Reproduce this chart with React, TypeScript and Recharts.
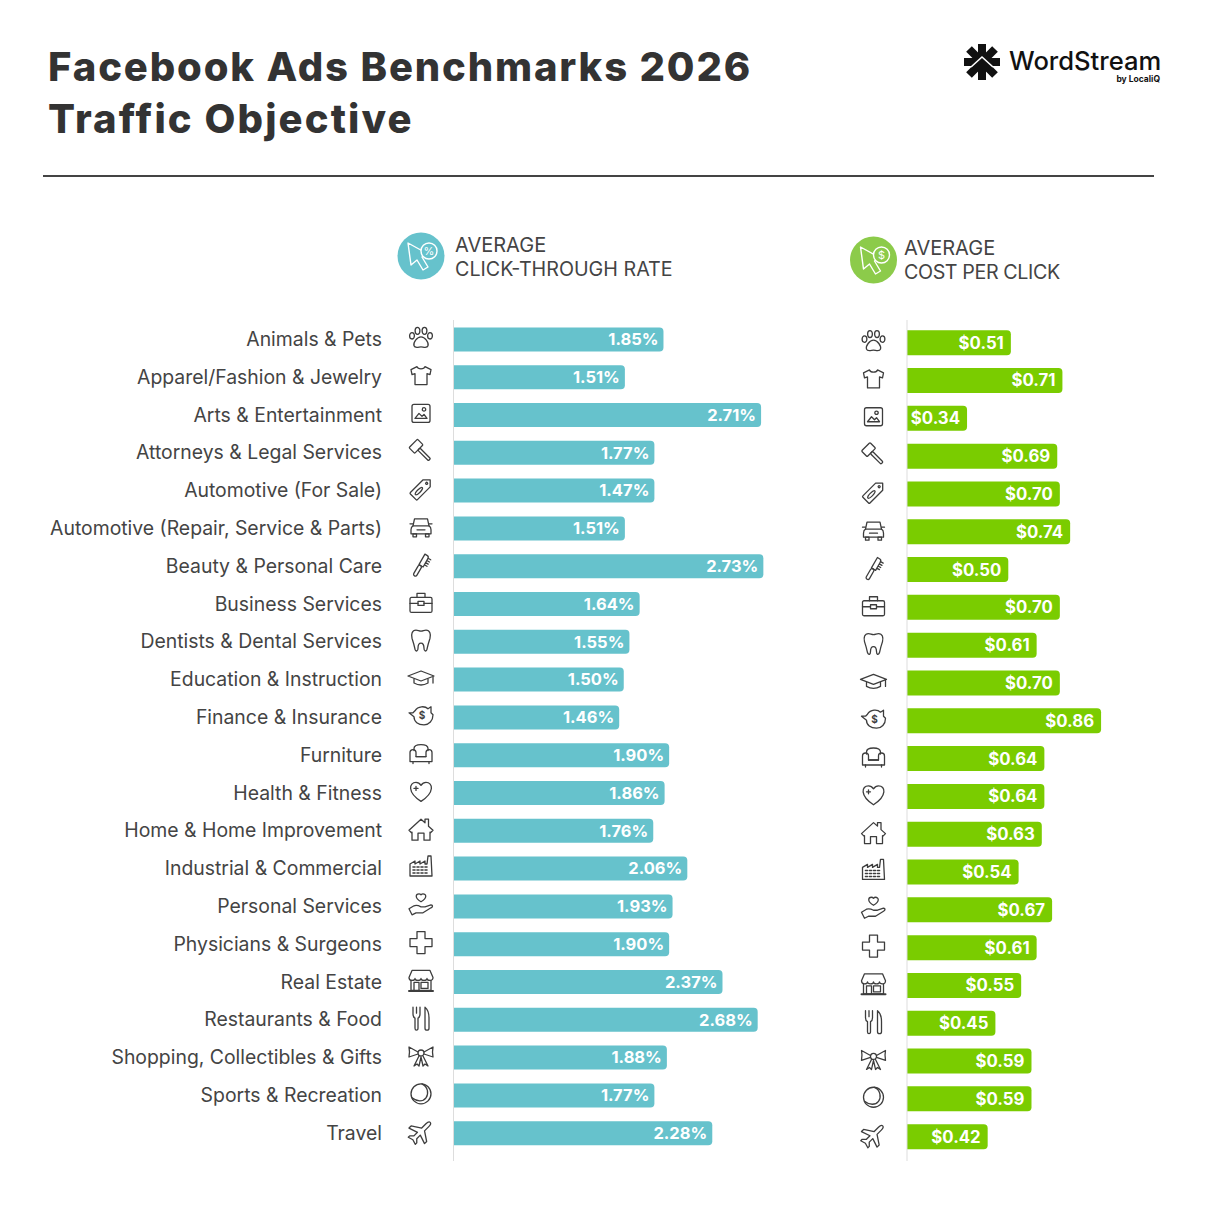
import React from "react";
import { BarChart, Bar, XAxis, YAxis, LabelList } from "recharts";

const categories = ["Animals & Pets","Apparel/Fashion & Jewelry","Arts & Entertainment","Attorneys & Legal Services","Automotive (For Sale)","Automotive (Repair, Service & Parts)","Beauty & Personal Care","Business Services","Dentists & Dental Services","Education & Instruction","Finance & Insurance","Furniture","Health & Fitness","Home & Home Improvement","Industrial & Commercial","Personal Services","Physicians & Surgeons","Real Estate","Restaurants & Food","Shopping, Collectibles & Gifts","Sports & Recreation","Travel"];
// Bar lengths as drawn. The Automotive (For Sale) bar is drawn longer than its printed 1.47%.
const ctrBars = [1.85,1.51,2.71,1.77,1.77,1.51,2.73,1.64,1.55,1.50,1.46,1.90,1.86,1.76,2.06,1.93,1.90,2.37,2.68,1.88,1.77,2.28];
const ctrLabels = ["1.85%","1.51%","2.71%","1.77%","1.47%","1.51%","2.73%","1.64%","1.55%","1.50%","1.46%","1.90%","1.86%","1.76%","2.06%","1.93%","1.90%","2.37%","2.68%","1.88%","1.77%","2.28%"];
const cpcBars = [0.51,0.71,0.34,0.69,0.70,0.74,0.50,0.70,0.61,0.70,0.86,0.64,0.64,0.63,0.54,0.67,0.61,0.55,0.45,0.59,0.59,0.42];
const cpcLabels = ["$0.51","$0.71","$0.34","$0.69","$0.70","$0.74","$0.50","$0.70","$0.61","$0.70","$0.86","$0.64","$0.64","$0.63","$0.54","$0.67","$0.61","$0.55","$0.45","$0.59","$0.59","$0.42"];

const ctrData = categories.map((name, i) => ({ name, value: ctrBars[i], label: ctrLabels[i] }));
const cpcData = categories.map((name, i) => ({ name, value: cpcBars[i], label: cpcLabels[i] }));

const FONT = "Inter, 'Noto Sans', sans-serif";
const DARK = "#3d3d3d";

const icons: React.ReactNode[] = [
  <g><ellipse cx={-9} cy={-2} rx={2.4} ry={3.2}/><ellipse cx={-3.5} cy={-7} rx={2.4} ry={3.5}/><ellipse cx={3.5} cy={-7} rx={2.4} ry={3.5}/><ellipse cx={9} cy={-2} rx={2.4} ry={3.2}/><path d="M0 -1C-4 -1 -8 5 -7 8C-6 11 -2 9 0 9C2 9 6 11 7 8C8 5 4 -1 0 -1Z"/></g>,
  <path d="M-4 -9L-10 -6L-9 -1L-6 -2V9H6V-2L9 -1L10 -6L4 -9C3 -6 -3 -6 -4 -9Z"/>,
  <g><rect x={-9} y={-9} width={18} height={18} rx={2}/><path d="M-6 5L-2 0L1 3L3 1L6 5Z"/><circle cx={3} cy={-4} r={1.7}/></g>,
  <g transform="rotate(-45)"><rect x={-6} y={-11} width={12} height={8} rx={1}/><rect x={-1.5} y={-3} width={3} height={15} rx={1}/></g>,
  <g transform="rotate(45)"><path d="M0 -13L5 -8V10Q5 11 4 11H-4Q-5 11 -5 10V-8Z"/><circle cx={0} cy={-8} r={1}/><ellipse cx={0} cy={3} rx={1.6} ry={5}/></g>,
  <g><path d="M-8 -1L-6.5 -8H6.5L8 -1Q10 0 10 3V7H-10V3Q-10 0 -8 -1Z"/><rect x={-8} y={7} width={3.5} height={3}/><rect x={4.5} y={7} width={3.5} height={3}/><path d="M-8 -1H8M-8 -3H-11M8 -3H11M-4 3H4"/></g>,
  <g transform="rotate(30)"><rect x={-1.8} y={1} width={3.6} height={12} rx={1.8}/><path d="M-1.8 1V-11H1Q3 -11 3 -8V1ZM3 -9H6M3 -6.5H6M3 -4H6M3 -1.5H6"/></g>,
  <g><rect x={-11} y={-5} width={22} height={15} rx={1.5}/><path d="M-4 -5V-9H4V-5M-11 1H-3M3 1H11"/><rect x={-3} y={-1} width={6} height={4}/></g>,
  <path d="M-5 -10C-9 -10 -10 -6 -9 -2C-8 1 -7 4 -6 9C-5 12 -3 11 -3 8C-3 5 -2 3 0 3C2 3 3 5 3 8C3 11 5 12 6 9C7 4 8 1 9 -2C10 -6 9 -10 5 -10C3 -10 2 -9 0 -9C-2 -9 -3 -10 -5 -10Z"/>,
  <g><path d="M0 -7L-13 -2L0 3L13 -2Z"/><path d="M-7 1V5Q0 9 7 5V1M12 -1V5"/></g>,
  <g><path d="M-6 -5C-3 -10 4 -10 7 -7L10 -9L10 -3L12 -1C12 5 8 9 3 9C-3 9 -7 6 -7 1L-12 -3L-8 -3Z"/><text x={1} y={3.5} fontSize={10} fontWeight={700} textAnchor="middle" stroke="none" fill={DARK} fontFamily={FONT}>$</text></g>,
  <g><path d="M-7 -3V-5Q-7 -9 0 -9Q7 -9 7 -5V-3M-5 3H5"/><path d="M-11 -1A3 3 0 0 1 -5 -1V3H5V-1A3 3 0 0 1 11 -1V8H-11Z"/><path d="M-8 8V10M8 8V10"/></g>,
  <g><path d="M0 10C-14 1 -12 -9 -5 -9C-2 -9 0 -6 0 -6C0 -6 2 -9 5 -9C12 -9 14 1 0 10Z"/><path d="M-5 -5V-1M-7 -3H-3"/></g>,
  <path d="M-12 1L0 -10L4 -6.5V-10H7.5V-3L12 1L9.5 3.5L9 3V11H3V4H-3V11H-9V3L-9.5 3.5Z"/>,
  <g><path d="M-11 9V-3L-6 -6V-3L-1 -6V-3L4 -6V-3L6 -3L7 -11H10L11 9Z"/><path d="M-8 0H6M-8 3H6M-8 6H6" strokeDasharray="2 2" strokeWidth={1.6}/></g>,
  <g><path d="M0 -3C-7 -7 -5 -11 -2 -11C-1 -11 0 -10 0 -10C0 -10 1 -11 2 -11C5 -11 7 -7 0 -3Z"/><path d="M-12 4L-7 1C-4 0 -2 1 0 2H4L10 0C12 0 12 2 10 3L2 8H-5L-9 10Z"/></g>,
  <path d="M-4 -11H4V-4H11V4H4V11H-4V4H-11V-4H-4Z"/>,
  <g><path d="M-9 -10H9L12 -3Q12 0 9 0Q6 0 6 -2Q6 0 3 0Q0 0 0 -2Q0 0 -3 0Q-6 0 -6 -2Q-6 0 -9 0Q-12 0 -12 -3Z"/><path d="M-10 0V10H10V0M-7 10V2H-2V10"/><rect x={0} y={2} width={7} height={6}/><path d="M-12 10.5H12" strokeWidth={2}/></g>,
  <g><path d="M-8 -11V-4Q-8 -1 -6 0V10Q-6 12 -4.5 12Q-3 12 -3 10V0Q-1 -1 -1 -4V-11M-4.5 -11V-5"/><path d="M4 -11Q8 -8 8 0V10Q8 12 6 12Q4 12 4 10Z"/></g>,
  <g><circle cx={0} cy={-3} r={3}/><path d="M-3 -4L-12 -9Q-11 -4 -12 1L-3 -2M3 -4L12 -9Q11 -4 12 1L3 -2M-2 0L-7 10L-4 8L-2 10L0 1L2 10L4 8L7 10L2 0"/></g>,
  <g><circle cx={0} cy={0} r={10}/><path d="M1 -10C7 -7 8 0 5 4C2 8 -4 8 -9 4"/></g>,
  <g transform="rotate(45)"><path d="M0 -13Q2 -13 2 -9V-3L11 3V6L2 3V8L5 11V13L0 11.5L-5 13V11L-2 8V3L-11 6V3L-2 -3V-9Q-2 -13 0 -13Z"/></g>,
];

const Icon = ({ index, x, y }: { index: number; x: number; y: number }) => (
  <g transform={`translate(${x},${y})`} fill="none" stroke={DARK} strokeWidth={1.3} strokeLinejoin="round" strokeLinecap="round">
    {icons[index]}
  </g>
);

const CtrTick = (props: any) => {
  const i = categories.indexOf(props.payload.value);
  return (
    <g>
      <text x={382} y={props.y} dy="0.35em" textAnchor="end" fontFamily={FONT} fontSize={19.4} fill="#444">{props.payload.value}</text>
      <Icon index={i} x={421} y={props.y - 1.5} />
    </g>
  );
};
const CpcTick = (props: any) => {
  const i = categories.indexOf(props.payload.value);
  return <Icon index={i} x={33.5} y={props.y - 2} />;
};

const Header = ({ cx, cy, color, symbol, tx, ty, lines, spacing }: any) => (
  <g>
    <circle cx={cx} cy={cy} r={23.5} fill={color} />
    <g transform={`translate(${cx},${cy})`} fill="none" stroke="#fff" strokeWidth={1.4} strokeLinejoin="round">
      <path d="M-13 -13L-10 9L-4 4L2 14L7 11L1 1L7 -2Z" fill={color} />
      <circle cx={8} cy={-5} r={8} fill={color} />
      <text x={8} y={-1} fontSize={11} textAnchor="middle" fill="#fff" stroke="none" fontFamily={FONT}>{symbol}</text>
    </g>
    <text x={tx} y={ty} fontFamily={FONT} fontSize={20} fill="#444">{lines[0]}</text>
    <text x={tx} y={ty + 24} fontFamily={FONT} fontSize={19.7} letterSpacing={spacing} fill="#444">{lines[1]}</text>
  </g>
);

export default function App() {
  return (
    <div style={{ position: "absolute", left: 0, top: 0, width: 1205, height: 1230, background: "#fff", overflow: "hidden" }}>
      <svg width={1205} height={1230} style={{ position: "absolute", left: 0, top: 0 }}>
        <text x={48} y={81} fontFamily={FONT} fontWeight={800} fontSize={40} letterSpacing={1.85} fill="#333">Facebook Ads Benchmarks 2026</text>
        <text x={48} y={133} fontFamily={FONT} fontWeight={800} fontSize={40} letterSpacing={2.1} fill="#333">Traffic Objective</text>
        <line x1={43} x2={1154} y1={176} y2={176} stroke="#444" strokeWidth={2} />
        <g transform="translate(982,62)" stroke="#111" strokeWidth={8}>
          <path d="M-18 0H18M0 -18V18M-13 -13L13 13M13 -13L-13 13" />
          <path d="M-11 5L0 -5L11 5" stroke="#fff" strokeWidth={1.6} fill="none" />
        </g>
        <text x={1009} y={70} fontFamily={FONT} fontWeight={500} fontSize={25.6} fill="#111">WordStream</text>
        <text x={1160} y={82} textAnchor="end" fontFamily={FONT} fontWeight={700} fontSize={8.5} fill="#111">by LocaliQ</text>
        <Header cx={421} cy={256} color="#66C2CC" symbol="%" tx={455} ty={252} lines={["AVERAGE", "CLICK-THROUGH RATE"]} spacing={0} />
        <Header cx={873.5} cy={260} color="#8CCB4A" symbol="$" tx={904} ty={255} lines={["AVERAGE", "COST PER CLICK"]} spacing={-0.4} />
      </svg>

      <div style={{ position: "absolute", left: 0, top: 320 }}>
        <BarChart layout="vertical" width={794} height={841} data={ctrData} margin={{ top: 0, right: 0, bottom: 0, left: 0 }}>
          <XAxis type="number" hide domain={[0, 3]} />
          <YAxis type="category" dataKey="name" width={453.5} interval={0} tickLine={false} axisLine={{ stroke: "#ddd" }} tick={<CtrTick />} padding={{ top: 0.4, bottom: 9 }} />
          <Bar dataKey="value" fill="#66C2CC" barSize={24} radius={[0, 4, 4, 0]} isAnimationActive={false}>
            <LabelList dataKey="label" position="insideRight" offset={5} fill="#fff" fontFamily={FONT} fontWeight={700} fontSize={16.5} />
          </Bar>
        </BarChart>
      </div>

      <div style={{ position: "absolute", left: 840, top: 320 }}>
        <BarChart layout="vertical" width={271.4} height={841} data={cpcData} margin={{ top: 0, right: 0, bottom: 0, left: 0 }}>
          <XAxis type="number" hide domain={[0.107, 0.9]} allowDataOverflow />
          <YAxis type="category" dataKey="name" width={67} interval={0} tickLine={false} axisLine={{ stroke: "#ddd" }} tick={<CpcTick />} padding={{ top: 4.2, bottom: 5 }} />
          <Bar dataKey="value" fill="#7ACC00" barSize={25} radius={[0, 4, 4, 0]} isAnimationActive={false}>
            <LabelList dataKey="label" position="insideRight" offset={7} fill="#fff" fontFamily={FONT} fontWeight={700} fontSize={16.8} />
          </Bar>
        </BarChart>
      </div>
    </div>
  );
}
